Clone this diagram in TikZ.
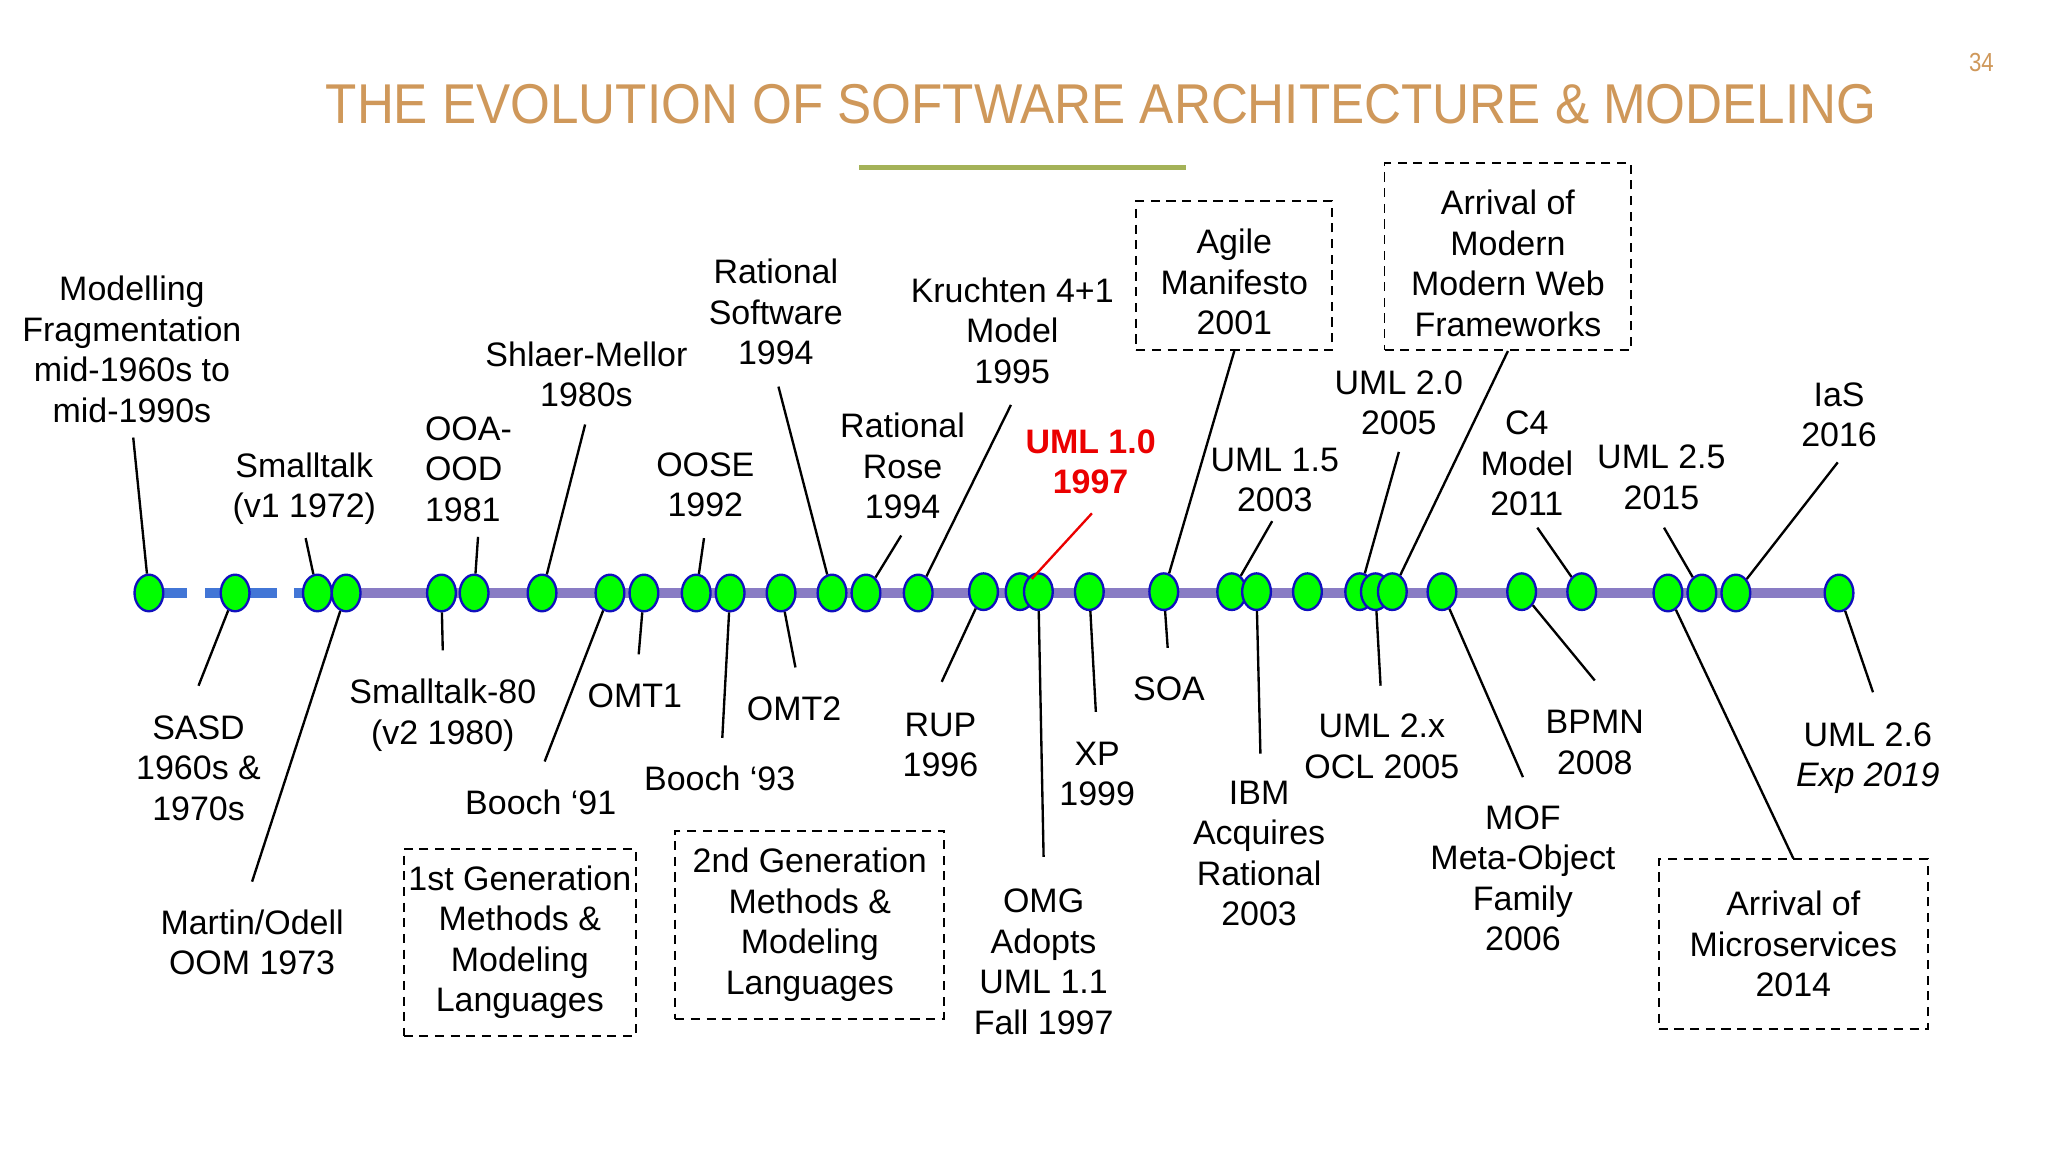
\documentclass[tikz,border=0pt]{standalone}
\usepackage{fontspec}
\usepackage{graphicx}
\setmainfont{Liberation Sans}
\usetikzlibrary{shapes.geometric}
\definecolor{titlecol}{RGB}{207,152,90}
\definecolor{olive}{RGB}{164,178,88}
\definecolor{tlpurple}{RGB}{137,124,196}
\definecolor{tlblue}{RGB}{66,118,214}
\definecolor{dotblue}{RGB}{16,16,190}
\definecolor{umlred}{RGB}{235,0,0}
\tikzset{
  dot/.style={ellipse, draw=dotblue, fill=green, line width=0.9pt, minimum width=11pt, minimum height=14pt, inner sep=0pt},
  lbl/.style={font=\fontsize{13}{15.5}\selectfont, align=center, inner sep=0pt},
  dbox/.style={draw, dashed, dash pattern=on 3.5pt off 2.5pt, line width=0.75pt, font=\fontsize{13}{15.5}\selectfont, align=center, inner sep=0pt},
  conn/.style={line width=0.9pt},
  tl/.style={line width=4pt}
}
\begin{document}
\begin{tikzpicture}[x=0.5pt,y=-0.5pt]
\useasboundingbox (0,0) rectangle (1568,882);
\fill[white] (0,0) rectangle (1568,882);
% title
\node[anchor=south west, inner sep=0pt, text=titlecol] (title) at (249,95) {\resizebox{593.5pt}{15pt}{THE EVOLUTION OF SOFTWARE ARCHITECTURE \& MODELING}};
\node[inner sep=0pt, text=titlecol, font=\fontsize{10}{12}\selectfont] (page) at (1517,48) {\scalebox{0.85}[1]{34}};
\coordinate (ul1) at (658,128);
\coordinate (ul2) at (908,128);
\draw[olive, line width=2pt] (ul1) -- (ul2);
% timeline
\coordinate (t0) at (114,454);
\coordinate (t1) at (143,454);
\coordinate (t2) at (157,454);
\coordinate (t3) at (212,454);
\coordinate (t4) at (225,454);
\coordinate (t5) at (243,454);
\coordinate (t6) at (1408,454);
\draw[tl, tlblue] (t0) -- (t1);
\draw[tl, tlblue] (t2) -- (t3);
\draw[tl, tlblue] (t4) -- (t5);
\draw[tl, tlpurple] (t5) -- (t6);
% dots
\node[dot] (d1) at (114,454) {};
\node[dot] (d2) at (180,454) {};
\node[dot] (d3) at (243,454) {};
\node[dot] (d4) at (265,454) {};
\node[dot] (d5) at (338,454) {};
\node[dot] (d6) at (363,454) {};
\node[dot] (d7) at (415,454) {};
\node[dot] (d8) at (467,454) {};
\node[dot] (d9) at (493,454) {};
\node[dot] (d10) at (533,454) {};
\node[dot] (d11) at (559,454) {};
\node[dot] (d12) at (598,454) {};
\node[dot] (d13) at (637,454) {};
\node[dot] (d14) at (663,454) {};
\node[dot] (d15) at (703,454) {};
\node[dot] (d16) at (753,453) {};
\node[dot] (d17) at (781,453) {};
\node[dot] (d18) at (795,453) {};
\node[dot] (d19) at (834,453) {};
\node[dot] (d20) at (891,453) {};
\node[dot] (d21) at (943,453) {};
\node[dot] (d22) at (962,453) {};
\node[dot] (d23) at (1001,453) {};
\node[dot] (d24) at (1041,453) {};
\node[dot] (d25) at (1053,453) {};
\node[dot] (d26) at (1066,453) {};
\node[dot] (d27) at (1104,453) {};
\node[dot] (d28) at (1165,453) {};
\node[dot] (d29) at (1211,453) {};
\node[dot] (d30) at (1277,454) {};
\node[dot] (d31) at (1303,454) {};
\node[dot] (d32) at (1329,454) {};
\node[dot] (d33) at (1408,454) {};
% labels
\node[lbl] (l1) at (101,267.5) {Modelling\\Fragmentation\\mid-1960s to\\mid-1990s};
\node[lbl] (l2) at (152,588) {SASD\\1960s \&\\1970s};
\node[lbl] (l3) at (233,374) {Smalltalk\\(v1 1972)};
\node[lbl] (l4) at (193,721.5) {Martin/Odell\\OOM 1973};
\node[lbl] (l5) at (339,547.5) {Smalltalk-80\\(v2 1980)};
\node[lbl, align=left, anchor=west] (l6) at (325,359) {OOA-\\OOD\\1981};
\node[lbl] (l7) at (449,286.5) {Shlaer-Mellor\\1980s};
\node[lbl] (l8) at (414,614) {Booch ‘91};
\node[lbl] (l9) at (486,533) {OMT1};
\node[lbl] (l10) at (540,371) {OOSE\\1992};
\node[lbl] (l11) at (551,596) {Booch ‘93};
\node[lbl] (l12) at (608,543) {OMT2};
\node[lbl] (l13) at (594,239) {Rational\\Software\\1994};
\node[lbl] (l14) at (691,357) {Rational\\Rose\\1994};
\node[lbl] (l15) at (775,253) {Kruchten 4+1\\Model\\1995};
\node[lbl] (l16) at (720,570.5) {RUP\\1996};
\node[lbl, text=umlred, font=\fontsize{13}{15.5}\selectfont\bfseries] (l17) at (835,353.5) {UML 1.0\\1997};
\node[lbl] (l18) at (799,736.5) {OMG\\Adopts\\UML 1.1\\Fall 1997};
\node[lbl] (l19) at (840,592.5) {XP\\1999};
\node[lbl] (l20) at (895,527) {SOA};
\node[lbl] (l21) at (976,367.5) {UML 1.5\\2003};
\node[lbl] (l22) at (964,653.5) {IBM\\Acquires\\Rational\\2003};
\node[lbl] (l24) at (1071,308.5) {UML 2.0\\2005};
\node[lbl] (l25) at (1058,571.5) {UML 2.x\\OCL 2005};
\node[lbl] (l27) at (1166,672.5) {MOF\\Meta-Object\\Family\\2006};
\node[lbl] (l28) at (1221,568.5) {BPMN\\2008};
\node[lbl] (l29) at (1169,355) {C4\\Model\\2011};
\node[lbl] (l31) at (1272,365.5) {UML 2.5\\2015};
\node[lbl] (l32) at (1408,317.5) {IaS\\2016};
\node[lbl] (l33) at (1430,580.5) {UML 2.6\\\textit{Exp 2019}};
% dashed boxes
\node[dbox, minimum width=75pt, minimum height=57pt] (agile) at (945,211) {};
\node[lbl] (agiletxt) at (945,216) {Agile\\Manifesto\\2001};
\node[dbox, minimum width=94.5pt, minimum height=71.5pt] (web) at (1154.5,196.5) {};
\node[lbl] (webtxt) at (1154.5,201.5) {Arrival of\\Modern\\Modern Web\\Frameworks};
\node[dbox, minimum width=89pt, minimum height=71.5pt] (gen1) at (398,721.5) {1st Generation\\Methods \&\\Modeling\\Languages};
\node[dbox, minimum width=103pt, minimum height=72pt] (gen2) at (620,708) {2nd Generation\\Methods \&\\Modeling\\Languages};
\node[dbox, minimum width=103pt, minimum height=65pt] (micro) at (1373,723) {Arrival of\\Microservices\\2014};
% connector free ends
\coordinate (c1) at (102,335);
\coordinate (c2) at (152,525);
\coordinate (c3) at (234,412);
\coordinate (c4) at (193,675);
\coordinate (c5) at (339,498);
\coordinate (c6) at (366,411);
\coordinate (c7) at (448,325);
\coordinate (c8) at (417,583);
\coordinate (c9) at (489,501);
\coordinate (c10) at (539,412);
\coordinate (c11) at (553,565);
\coordinate (c12) at (609,511);
\coordinate (c13) at (596,296);
\coordinate (c14) at (690,410);
\coordinate (c15) at (774,310);
\coordinate (c16) at (721,522);
\coordinate (c17) at (836,393);
\coordinate (c18) at (799,656);
\coordinate (c19) at (839,545);
\coordinate (c20) at (894,496);
\coordinate (c21) at (974,399);
\coordinate (c22) at (965,577);
\coordinate (c24) at (1071,346);
\coordinate (c25) at (1057,525);
\coordinate (c27) at (1166,595);
\coordinate (c28) at (1221,521);
\coordinate (c29) at (1177,404);
\coordinate (c31) at (1274,404);
\coordinate (c32) at (1407,354);
\coordinate (c33) at (1434,530);
% connectors
\draw[conn] (c1) -- (d1);
\draw[conn] (c2) -- (d2);
\draw[conn] (c3) -- (d3);
\draw[conn] (c4) -- (d4);
\draw[conn] (d5) -- (c5);
\draw[conn] (c6) -- (d6);
\draw[conn] (c7) -- (d7);
\draw[conn] (c8) -- (d8);
\draw[conn] (d9) -- (c9);
\draw[conn] (c10) -- (d10);
\draw[conn] (c11) -- (d11);
\draw[conn] (d12) -- (c12);
\draw[conn] (c13) -- (d13);
\draw[conn] (c14) -- (d14);
\draw[conn] (c15) -- (d15);
\draw[conn] (d16) -- (c16);
\draw[conn, umlred] (c17) -- (d17);
\draw[conn] (d18) -- (c18);
\draw[conn] (d19) -- (c19);
\draw[conn] (agile.south) -- (d20);
\draw[conn] (d20) -- (c20);
\draw[conn] (c21) -- (d21);
\draw[conn] (d22) -- (c22);
\draw[conn] (c24) -- (d24);
\draw[conn] (d25) -- (c25);
\draw[conn] (web.south) -- (d26);
\draw[conn] (d27) -- (c27);
\draw[conn] (d28) -- (c28);
\draw[conn] (c29) -- (d29);
\draw[conn] (d30) -- (micro.north);
\draw[conn] (c31) -- (d31);
\draw[conn] (c32) -- (d32);
\draw[conn] (d33) -- (c33);
\end{tikzpicture}
\end{document}
